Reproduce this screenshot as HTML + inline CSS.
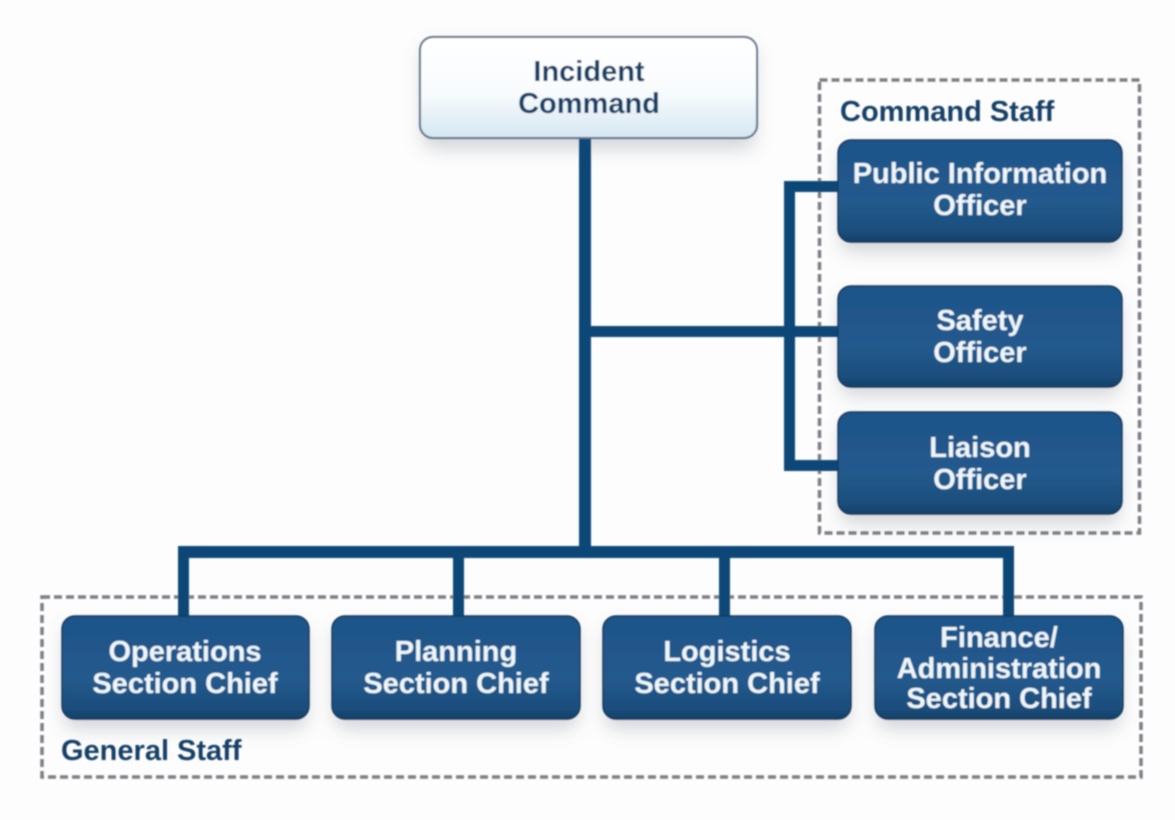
<!DOCTYPE html>
<html>
<head>
<meta charset="utf-8">
<style>
html,body{margin:0;padding:0;background:#fdfdfd;}
svg{display:block;}
text{font-family:"Liberation Sans",sans-serif;font-weight:bold;font-size:29px;text-anchor:middle;}
.w{fill:#eef6fb;}
.d{fill:#123f66;}
.l{text-anchor:start;}
</style>
</head>
<body>
<svg width="1175" height="820" viewBox="0 0 1175 820" xmlns="http://www.w3.org/2000/svg">
<defs>
<linearGradient id="b" x1="0" y1="0" x2="0" y2="1">
<stop offset="0" stop-color="#1d5388"/>
<stop offset="0.6" stop-color="#235a8d"/>
<stop offset="0.9" stop-color="#1a4d7c"/>
<stop offset="1" stop-color="#163f66"/>
</linearGradient>
<linearGradient id="w" x1="0" y1="0" x2="0" y2="1">
<stop offset="0" stop-color="#ffffff"/>
<stop offset="0.55" stop-color="#f8fbfd"/>
<stop offset="1" stop-color="#d5e6f1"/>
</linearGradient>
<filter id="s" x="-20%" y="-30%" width="140%" height="170%"><feGaussianBlur stdDeviation="9"/></filter>
<filter id="soft" x="-5%" y="-5%" width="110%" height="110%"><feGaussianBlur stdDeviation="0.7"/></filter>
</defs>
<rect width="1175" height="820" fill="#fdfdfd"/>
<g filter="url(#soft)">
<!-- shadows -->
<g fill="#8c949c" opacity="0.38" filter="url(#s)">
<rect x="422" y="46" width="333" height="103" rx="12"/>
<rect x="840" y="150" width="280" height="102" rx="12"/>
<rect x="840" y="296" width="280" height="100" rx="12"/>
<rect x="840" y="422" width="280" height="102" rx="12"/>
<rect x="64" y="626" width="243" height="103" rx="12"/>
<rect x="334" y="626" width="244" height="103" rx="12"/>
<rect x="605" y="626" width="244" height="103" rx="12"/>
<rect x="877" y="626" width="244" height="103" rx="12"/>
</g>
<!-- dashed groups -->
<g fill="none" stroke="#7d7f85" stroke-width="3.5" stroke-dasharray="8 4">
<rect x="819.500" y="80" width="320" height="453"/>
<rect x="42" y="597" width="1099" height="180"/>
</g>
<!-- connectors -->
<g fill="#0f4677">
<rect x="579" y="136" width="12" height="420"/>
<rect x="591" y="326" width="250" height="11"/>
<rect x="784" y="181" width="11" height="290"/>
<rect x="784" y="181" width="56" height="11"/>
<rect x="784" y="460" width="56" height="11"/>
<rect x="178" y="546" width="836" height="12"/>
<rect x="178" y="546" width="11" height="72"/>
<rect x="453" y="546" width="11" height="72"/>
<rect x="719" y="546" width="11" height="72"/>
<rect x="1003" y="546" width="11" height="72"/>
</g>
<!-- nodes -->
<rect x="420" y="37" width="337" height="101" rx="13" fill="url(#w)" stroke="#5f7288" stroke-width="2"/>
<g fill="url(#b)" stroke="#143a5e" stroke-width="1.500">
<rect x="838" y="140" width="284" height="102" rx="13"/>
<rect x="838" y="286" width="284" height="101" rx="13"/>
<rect x="838" y="412" width="284" height="102" rx="13"/>
<rect x="62" y="616" width="247" height="103" rx="13"/>
<rect x="332" y="616" width="248" height="103" rx="13"/>
<rect x="603" y="616" width="248" height="103" rx="13"/>
<rect x="875" y="616" width="248" height="103" rx="13"/>
</g>
<!-- labels -->
<text class="d" x="589" y="81">Incident</text>
<text class="d" x="589" y="113">Command</text>
<text class="d l" x="840" y="121">Command Staff</text>
<text class="d l" x="61" y="760">General Staff</text>
<text class="w" x="980" y="183">Public Information</text>
<text class="w" x="980" y="215">Officer</text>
<text class="w" x="980" y="330">Safety</text>
<text class="w" x="980" y="362">Officer</text>
<text class="w" x="980" y="457">Liaison</text>
<text class="w" x="980" y="489">Officer</text>
<text class="w" x="185" y="661">Operations</text>
<text class="w" x="185" y="693">Section Chief</text>
<text class="w" x="456" y="661">Planning</text>
<text class="w" x="456" y="693">Section Chief</text>
<text class="w" x="727" y="661">Logistics</text>
<text class="w" x="727" y="693">Section Chief</text>
<text class="w" x="999" y="647">Finance/</text>
<text class="w" x="999" y="678">Administration</text>
<text class="w" x="999" y="708">Section Chief</text>
</g>
</svg>
</body>
</html>
